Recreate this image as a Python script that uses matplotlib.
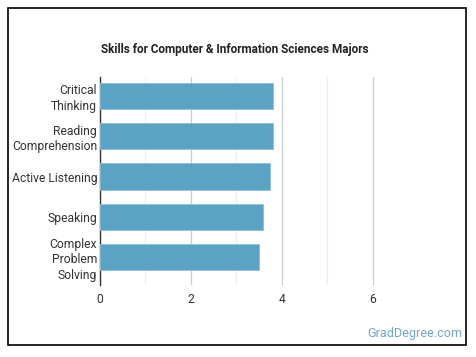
import matplotlib
matplotlib.use("Agg")
import matplotlib.pyplot as plt
from matplotlib.patches import Rectangle

categories = ["Critical\nThinking", "Reading\nComprehension", "Active Listening", "Speaking", "Complex\nProblem\nSolving"]
values = [3.80, 3.80, 3.74, 3.58, 3.49]
major_ticks = [0, 2, 4, 6]
minor_ticks = [1, 3, 5]
title = "Skills for Computer & Information Sciences Majors"

plt.rcParams['font.family'] = ['Roboto', 'DejaVu Sans']

W, H = 476, 357
fig = plt.figure(figsize=(W/100, H/100), dpi=100)
fig.patch.set_facecolor('white')

# outer frame
fig.add_artist(Rectangle((8/W, 1 - 345/H), 458/W, 337/H, transform=fig.transFigure,
                         fill=False, edgecolor='black', linewidth=1.2))

ax = fig.add_axes([100/W, 1 - 285/H, 318/W, 208/H])
pos = list(range(len(categories)))
ax.barh(pos, values, height=0.65, color='#5ba3c4', edgecolor='#8cc0d8', linewidth=0.6, zorder=3)
ax.set_ylim(4.69, -0.47)
ax.set_xlim(0, 7)
ax.set_yticks(pos)
ax.set_yticklabels(categories, fontsize=8.7, color='#333333', linespacing=1.25)
ax.set_xticks(major_ticks)
ax.set_xticklabels([str(t) for t in major_ticks], fontsize=8.7, color='#333333')
ax.set_xticks(minor_ticks, minor=True)
ax.grid(axis='x', which='major', color='#cccccc', linewidth=0.9, zorder=0)
ax.grid(axis='x', which='minor', color='#eeeeee', linewidth=0.9, zorder=0)
for s in ['top', 'right', 'bottom']:
    ax.spines[s].set_visible(False)
ax.spines['left'].set_color('#333333')
ax.spines['left'].set_linewidth(1.0)
ax.tick_params(axis='both', which='both', length=0)
ax.tick_params(axis='y', pad=2)
ax.tick_params(axis='x', pad=6)

fig.text(235/W, 1 - 50/H, title, ha='center', va='center', fontsize=8.5,
         fontweight='bold', color='#222222')
fig.text(462/W, 1 - 334/H, "GradDegree.com", ha='right', va='center', fontsize=9.1,
         color='#6fa8c8')

fig.savefig("out.png", dpi=100)
